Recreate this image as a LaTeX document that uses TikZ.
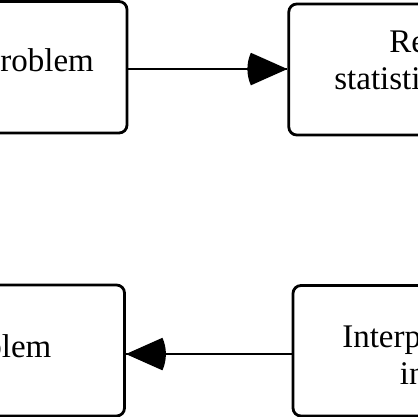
\documentclass[tikz,border=0pt]{standalone}
\usepackage{fontspec}
\setmainfont{Liberation Serif}
\begin{document}
\begin{tikzpicture}[x=1pt,y=-1pt,
  box/.style={draw, line width=2.8pt, rounded corners=8pt, inner sep=0pt},
  lbl/.style={font=\fontsize{33}{37}\selectfont, align=center, inner sep=0pt},
  conn/.style={line width=2.8pt},
  tip/.style={fill=black}]
\useasboundingbox (0,0) rectangle (417,417);
% boxes
\node[box, minimum width=325pt, minimum height=131.5pt] (A) at (-35.5,67.25) {};
\node[box, minimum width=334pt, minimum height=131pt] (B) at (455.8,69.5) {};
\node[box, minimum width=330pt, minimum height=130.5pt] (C) at (458,350.75) {};
\node[box, minimum width=380pt, minimum height=131pt] (D) at (-65.5,350.5) {};
% texts
\node[lbl, anchor=base east] (tA) at (94,71.7) {Real-world problem};
\node[lbl, anchor=base] (tB) at (455.8,90) {Restate as\\statistical problem};
\node[lbl, anchor=base] (tC) at (465.5,384) {Interpret statistical\\in context};
\node[lbl, anchor=base east] (tD) at (51.5,357.3) {Solve real-world problem};
% connectors
\coordinate (a1) at ([yshift=-1.8pt]A.east);
\coordinate (b1) at (a1 -| B.west);
\draw[conn] (a1) -- (b1);
\fill[tip] (b1) -- ++(156:40) arc[start angle=156, end angle=204, radius=40] -- cycle;
\coordinate (c1) at ([yshift=-3.3pt]C.west);
\coordinate (d1) at (c1 -| D.east);
\draw[conn] (c1) -- (d1);
\fill[tip] (d1) -- ++(24:40) arc[start angle=24, end angle=-24, radius=40] -- cycle;
\end{tikzpicture}
\end{document}
